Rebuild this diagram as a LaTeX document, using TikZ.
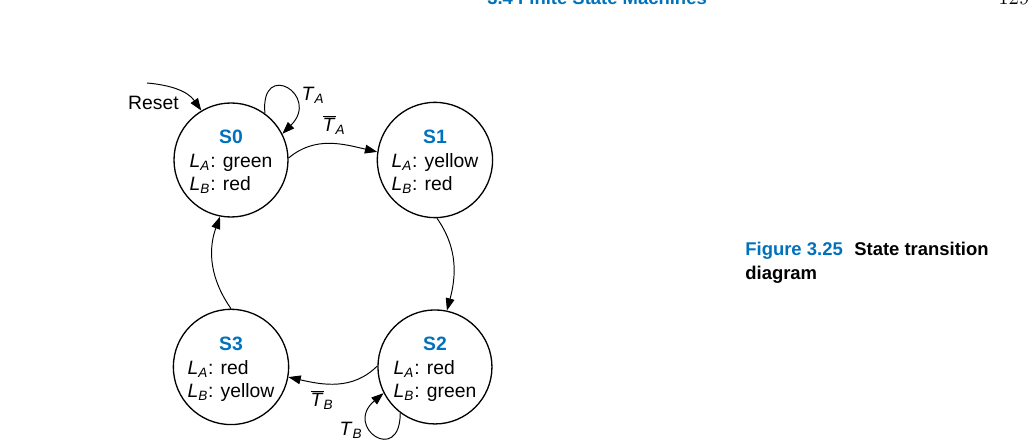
\documentclass[tikz,border=0pt]{standalone}
\usepackage{fontspec}
\setmainfont{Liberation Sans}
\newfontfamily\numfont{Latin Modern Roman}
\usetikzlibrary{positioning,arrows.meta}
\definecolor{fsmBlue}{RGB}{0,114,188}
\newcommand{\sig}[2]{\textit{#1}\textsubscript{\textit{#2}}}
\newcommand{\nsig}[2]{$\overline{\mbox{\textit{#1}}}$\textsubscript{\textit{#2}}}
\newcommand{\stlab}[3]{{\color{fsmBlue}\bfseries\rule{0pt}{12.5pt}#1}\\
  \begin{tabular}[t]{@{}l@{}}\sig{L}{A}: #2\\\sig{L}{B}: #3\end{tabular}}

\begin{document}
\begin{tikzpicture}[
  state/.style={draw, circle, line width=0.75pt, minimum size=2.28cm,
                inner sep=0pt, align=center, font=\fontsize{11}{13.4}\selectfont},
  arr/.style={-{Triangle[length=7pt,width=5pt]}, line width=0.55pt},
  lbl/.style={font=\fontsize{11}{13.4}\selectfont, inner sep=0pt}]
  \useasboundingbox (0,0) rectangle (20.7,-8.96);
  \node[anchor=base west, inner sep=0pt, text=fsmBlue,
        font=\fontsize{10.5}{12}\selectfont\bfseries] (hdr) at (9.74,-0.1) {3.4 Finite State Machines};
  \node[anchor=base west, inner sep=0pt,
        font=\numfont\fontsize{12}{14}\selectfont] (pgno) at (19.96,-0.1) {129};
  \node[state] (s0) at (4.62,-3.2) {\stlab{S0}{green}{red}};
  \node[state, right=1.76cm of s0] (s1) {\stlab{S1}{yellow}{red}};
  \node[state, below=1.82cm of s1] (s2) {\stlab{S2}{red}{green}};
  \node[state, below=1.82cm of s0] (s3) {\stlab{S3}{red}{yellow}};
  \coordinate (rst) at (2.94,-1.66);
  \node[lbl, anchor=east] (rstlbl) at (3.58,-2.06) {Reset};
  \draw[arr] (rst) to[out=-5,in=125] (s0.121);
  \draw[arr] (s0.54) to[out=95,in=45,looseness=5.2] (s0.27);
  \node[lbl] (ta) at (6.26,-1.9) {\sig{T}{A}};
  \draw[arr] (s0.2) to[out=40,in=167] (s1.172);
  \node[lbl] (nta) at (6.68,-2.5) {\nsig{T}{A}};
  \draw[arr] (s1.-88) to[out=-55,in=75] (s2.78);
  \draw[arr] (s2.179) to[out=-135,in=-13] (s3.-10);
  \node[lbl] (ntb) at (6.44,-8.0) {\nsig{T}{B}};
  \draw[arr] (s2.233) to[out=-90,in=220,looseness=5.2] (s2.207);
  \node[lbl] (tb) at (7.02,-8.6) {\sig{T}{B}};
  \draw[arr] (s3.90) to[out=125,in=250] (s0.259);
  \node[anchor=base west, inner sep=0pt, align=left,
        font=\fontsize{10.5}{14.2}\selectfont\bfseries] (cap) at (14.9,-5.6)
    {{\color{fsmBlue}Figure 3.25}\hspace{0.35em} State transition\\diagram};
\end{tikzpicture}
\end{document}
